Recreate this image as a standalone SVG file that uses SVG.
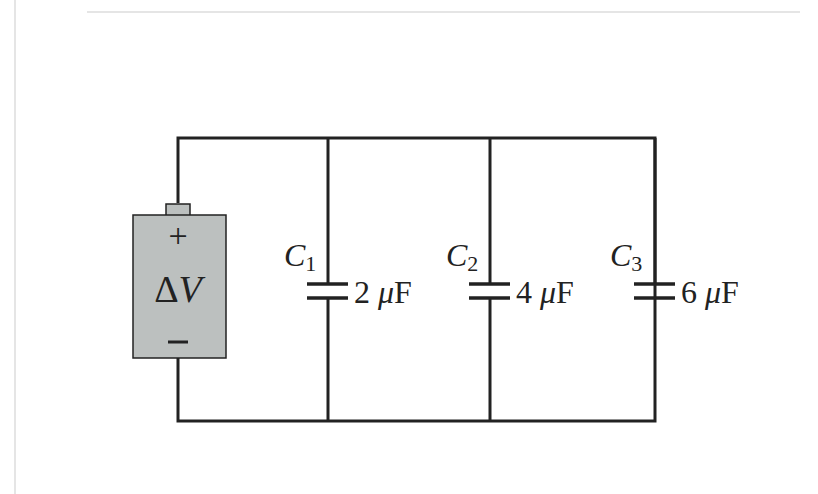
<svg xmlns="http://www.w3.org/2000/svg" width="818" height="494" viewBox="0 0 818 494">
<style>
.w{stroke:#222;stroke-width:3;fill:none}
.p{stroke:#222;stroke-width:3.5}
.t{font-family:"Liberation Serif",serif;font-size:32px;fill:#222}
.i{font-style:italic}
.s{font-size:22px;font-style:normal}
</style>
<rect width="818" height="494" fill="#fff"/>
<line x1="87" y1="12" x2="800" y2="12" stroke="#ddd" stroke-width="1.5"/>
<line x1="15" y1="0" x2="15" y2="494" stroke="#ddd" stroke-width="1.5"/>
<g id="connectors">
<path class="w" d="M178 203V138H655V421H178V358"/>
<path class="w" d="M328 138V284M328 298V421M490 138V284M490 298V421M655 138V284M655 298"/>
</g>
<g id="battery">
<rect x="166" y="204" width="24" height="12" fill="#bcc0bf" stroke="#222" stroke-width="1.5"/>
<rect x="133" y="215" width="93" height="143" fill="#bcc0bf" stroke="#222" stroke-width="1.5"/>
<text x="178" y="247" class="t" style="font-size:34px" text-anchor="middle">+</text>
<text x="178" y="302" class="t" style="font-size:38px" text-anchor="middle">Δ<tspan class="i">V</tspan></text>
<line x1="168" y1="342" x2="188" y2="342" stroke="#222" stroke-width="3"/>
</g>
<g id="C1">
<line class="p" x1="307" y1="284" x2="348" y2="284"/><line class="p" x1="307" y1="298" x2="348" y2="298"/>
<text x="284" y="266" class="t i">C<tspan class="s" dy="5">1</tspan></text>
<text x="354" y="303" class="t">2 <tspan class="i">μ</tspan>F</text>
</g>
<g id="C2">
<line class="p" x1="469" y1="284" x2="510" y2="284"/><line class="p" x1="469" y1="298" x2="510" y2="298"/>
<text x="446" y="266" class="t i">C<tspan class="s" dy="5">2</tspan></text>
<text x="516" y="303" class="t">4 <tspan class="i">μ</tspan>F</text>
</g>
<g id="C3">
<line class="p" x1="634" y1="284" x2="675" y2="284"/><line class="p" x1="634" y1="298" x2="675" y2="298"/>
<text x="610" y="266" class="t i">C<tspan class="s" dy="5">3</tspan></text>
<text x="681" y="303" class="t">6 <tspan class="i">μ</tspan>F</text>
</g>
</svg>
